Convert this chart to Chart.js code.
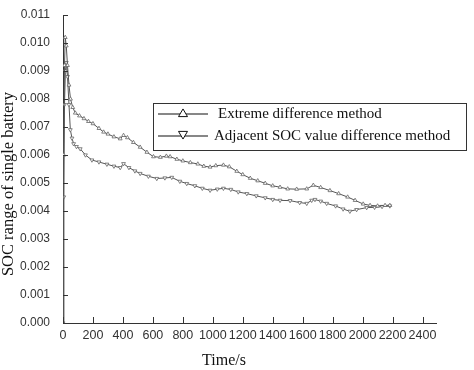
<!DOCTYPE html>
<html>
<head>
<meta charset="utf-8">
<script src="https://cdn.jsdelivr.net/npm/chart.js@4.4.1/dist/chart.umd.min.js"></script>
<style>
  body { margin: 0; background: #fff; }
  #wrap { width: 474px; height: 370px; }
</style>
</head>
<body>
<div id="wrap"><canvas id="socChart" width="474" height="370"></canvas></div>
<script>
// time (s) and SOC range
const extremeTime = [0, 5, 10, 15, 22, 30, 40, 50, 65, 82, 110, 140, 170, 200, 240, 271, 300, 340, 382, 404, 430, 470, 515, 560, 604, 650, 690, 715, 760, 800, 850, 900, 940, 982, 1020, 1071, 1110, 1160, 1200, 1250, 1300, 1350, 1400, 1449, 1500, 1560, 1627, 1671, 1720, 1782, 1840, 1900, 1950, 2004, 2050, 2100, 2150, 2182];
const extremeSoc = [0, 0.0060, 0.0092, 0.0102, 0.0099, 0.0092, 0.0085, 0.0080, 0.0077, 0.0075, 0.0074, 0.0073, 0.0072, 0.00712, 0.00695, 0.00682, 0.00675, 0.00665, 0.00658, 0.0067, 0.00662, 0.00645, 0.00628, 0.0061, 0.00594, 0.00592, 0.00596, 0.00594, 0.00585, 0.00579, 0.00573, 0.00568, 0.0056, 0.00557, 0.00562, 0.00564, 0.00558, 0.00542, 0.0053, 0.00517, 0.00508, 0.00499, 0.0049, 0.00485, 0.00479, 0.00478, 0.00479, 0.00492, 0.00484, 0.00473, 0.00462, 0.0045, 0.00438, 0.00425, 0.0042, 0.00418, 0.0042, 0.0042];

const adjacentTime = [0, 5, 10, 16, 22, 30, 40, 49, 60, 71, 90, 115, 150, 193, 240, 293, 340, 382, 404, 440, 480, 515, 570, 626, 680, 726, 780, 826, 880, 930, 982, 1030, 1071, 1120, 1170, 1227, 1290, 1350, 1400, 1449, 1516, 1580, 1627, 1660, 1682, 1720, 1760, 1820, 1870, 1915, 1960, 2027, 2080, 2130, 2182];
const adjacentSoc = [0, 0.0045, 0.0078, 0.0090, 0.0093, 0.0088, 0.0078, 0.0069, 0.0066, 0.0064, 0.0063, 0.00622, 0.0060, 0.00582, 0.00575, 0.00567, 0.0056, 0.00555, 0.00569, 0.00555, 0.00543, 0.00534, 0.00524, 0.00516, 0.00518, 0.0052, 0.00506, 0.00498, 0.0049, 0.00481, 0.00474, 0.00478, 0.00481, 0.00477, 0.00468, 0.00462, 0.00454, 0.00447, 0.00441, 0.00438, 0.00437, 0.0043, 0.00427, 0.00438, 0.00441, 0.00435, 0.00427, 0.00418, 0.00407, 0.00399, 0.00405, 0.00412, 0.00413, 0.00416, 0.00418];

const seriesNames = ['Extreme difference method', 'Adjacent SOC value difference method'];
const xTitle = 'Time/s';
const yTitle = 'SOC range of single battery';
const xTicks = [0, 200, 400, 600, 800, 1000, 1200, 1400, 1600, 1800, 2000, 2200, 2400];

function toPoints(xs, ys) {
    return xs.map((x, i) => ({ x: x, y: ys[i] }));
}

const lineColor = '#555';
const serif = '"Liberation Serif", "Times New Roman", serif';
const sans = '"Liberation Sans", Arial, sans-serif';

// small inward tick marks like the original plot
const innerTicks = {
    id: 'innerTicks',
    afterDraw(chart) {
        const ctx = chart.ctx;
        const xs = chart.scales.x, ys = chart.scales.y;
        const area = chart.chartArea;
        ctx.save();
        ctx.strokeStyle = '#333';
        ctx.lineWidth = 1;
        ctx.beginPath();
        xs.ticks.forEach(t => {
            const px = Math.round(xs.getPixelForValue(t.value)) + 0.5;
            ctx.moveTo(px, area.bottom);
            ctx.lineTo(px, area.bottom - 6);
        });
        ys.ticks.forEach(t => {
            const py = Math.round(ys.getPixelForValue(t.value)) + 0.5;
            ctx.moveTo(area.left, py);
            ctx.lineTo(area.left + 5, py);
        });
        ctx.stroke();
        ctx.restore();
    }
};

// axis titles sit a little off-centre in the original
const axisTitles = {
    id: 'axisTitles',
    afterDraw(chart) {
        const ctx = chart.ctx;
        ctx.save();
        ctx.fillStyle = '#111';
        ctx.textAlign = 'center';
        ctx.textBaseline = 'middle';
        ctx.font = '16px ' + serif;
        ctx.fillText(xTitle, 224, 361);
        ctx.translate(9, 184);
        ctx.rotate(-Math.PI / 2);
        ctx.font = '16.5px ' + serif;
        ctx.fillText(yTitle, 0, 0);
        ctx.restore();
    }
};

function drawTri(ctx, x, y, s, down) {
    ctx.beginPath();
    if (down) {
        ctx.moveTo(x - s, y - s * 0.8);
        ctx.lineTo(x + s, y - s * 0.8);
        ctx.lineTo(x, y + s * 0.9);
    } else {
        ctx.moveTo(x - s, y + s * 0.8);
        ctx.lineTo(x + s, y + s * 0.8);
        ctx.lineTo(x, y - s * 0.9);
    }
    ctx.closePath();
    ctx.fill();
    ctx.stroke();
}

// boxed legend sitting inside the plot
const boxLegend = {
    id: 'boxLegend',
    afterDraw(chart) {
        const ctx = chart.ctx;
        ctx.save();
        ctx.fillStyle = '#fff';
        ctx.fillRect(153, 103, 313, 47);
        ctx.strokeStyle = '#333';
        ctx.lineWidth = 1;
        ctx.strokeRect(153.5, 103.5, 313, 47);

        const rows = [114, 136];
        rows.forEach((y, i) => {
            ctx.strokeStyle = '#111';
            ctx.lineWidth = 1.2;
            ctx.beginPath();
            ctx.moveTo(158, y);
            ctx.lineTo(208, y);
            ctx.stroke();
            ctx.fillStyle = '#fff';
            ctx.lineWidth = 1;
            drawTri(ctx, 183, y - 1, 4.5, i === 1);
            ctx.fillStyle = '#111';
            ctx.font = '15px ' + serif;
            ctx.textBaseline = 'middle';
            ctx.textAlign = 'left';
            ctx.fillText(seriesNames[i], i === 0 ? 218 : 214, y);
        });
        ctx.restore();
    }
};

new Chart(document.getElementById('socChart'), {
    type: 'line',
    data: {
        datasets: [{
            label: seriesNames[0],
            data: toPoints(extremeTime, extremeSoc),
            borderColor: lineColor,
            borderWidth: 1,
            pointStyle: 'triangle',
            pointRadius: 2.2,
            pointBorderWidth: 0.8,
            pointBackgroundColor: '#fff',
            pointBorderColor: '#666',
            tension: 0
        }, {
            label: seriesNames[1],
            data: toPoints(adjacentTime, adjacentSoc),
            borderColor: lineColor,
            borderWidth: 1,
            pointStyle: 'triangle',
            pointRotation: 180,
            pointRadius: 2.2,
            pointBorderWidth: 0.8,
            pointBackgroundColor: '#fff',
            pointBorderColor: '#666',
            tension: 0
        }]
    },
    options: {
        responsive: false,
        animation: false,
        layout: { padding: { top: 15, right: 38, left: 0, bottom: 0 } },
        plugins: { legend: { display: false }, tooltip: { enabled: false } },
        scales: {
            x: {
                type: 'linear',
                min: 0,
                max: 2490,
                afterBuildTicks: scale => {
                    scale.ticks = xTicks.map(v => ({ value: v }));
                },
                afterFit: scale => { scale.height = 47; },
                ticks: {
                    maxRotation: 0,
                    autoSkip: false,
                    padding: -3,
                    color: '#333',
                    font: { family: sans, size: 12.5 },
                    callback: v => String(v)
                },
                grid: { display: false },
                border: { color: '#333', width: 1 }
            },
            y: {
                min: 0,
                max: 0.011,
                afterFit: scale => { scale.width = 63; },
                ticks: {
                    stepSize: 0.001,
                    padding: 5,
                    color: '#333',
                    font: { family: sans, size: 12 },
                    callback: v => v.toFixed(3)
                },
                grid: { display: false },
                border: { color: '#333', width: 1 }
            }
        }
    },
    plugins: [innerTicks, axisTitles, boxLegend]
});
</script>
</body>
</html>
